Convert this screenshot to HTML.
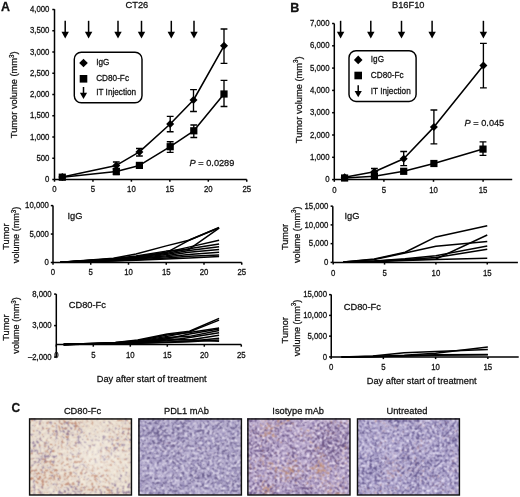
<!DOCTYPE html>
<html><head><meta charset="utf-8"><title>Figure</title>
<style>html,body{margin:0;padding:0;background:#fff;width:520px;height:497px;overflow:hidden}svg{display:block}</style>
</head><body>
<svg width="520" height="497" viewBox="0 0 520 497" font-family='"Liberation Sans", Arial, sans-serif' fill="#111">
<style>text{stroke:#111;stroke-width:0.25px}.ax{stroke:#000;stroke-width:1.5;fill:none}.eb{stroke:#000;stroke-width:1.35;fill:none}.dl{stroke:#000;stroke-width:1.55;fill:none;stroke-linejoin:round}.ml{stroke:#000;stroke-width:1.5;fill:none;stroke-linejoin:round}</style>
<rect width="520" height="497" fill="#fff"/>
<text transform="translate(0.9 10.6) scale(1 1.07)" font-size="12.4" font-weight="bold">A</text>
<text transform="translate(290.3 11.6) scale(1 1.07)" font-size="12.6" font-weight="bold">B</text>
<text transform="translate(11.4 411.8) scale(1 1.07)" font-size="12.0" font-weight="bold">C</text>
<line x1="54.5" y1="9.2" x2="54.5" y2="179.5" class="ax"/>
<line x1="52.3" y1="179.5" x2="54.5" y2="179.5" class="ax"/>
<text transform="translate(49.4 182.15) scale(1 1.07)" font-size="7.8" text-anchor="end">0</text>
<line x1="52.3" y1="158.25" x2="54.5" y2="158.25" class="ax"/>
<text transform="translate(49.4 160.9) scale(1 1.07)" font-size="7.8" text-anchor="end">500</text>
<line x1="52.3" y1="137" x2="54.5" y2="137" class="ax"/>
<text transform="translate(49.4 139.65) scale(1 1.07)" font-size="7.8" text-anchor="end">1,000</text>
<line x1="52.3" y1="115.75" x2="54.5" y2="115.75" class="ax"/>
<text transform="translate(49.4 118.4) scale(1 1.07)" font-size="7.8" text-anchor="end">1,500</text>
<line x1="52.3" y1="94.5" x2="54.5" y2="94.5" class="ax"/>
<text transform="translate(49.4 97.15) scale(1 1.07)" font-size="7.8" text-anchor="end">2,000</text>
<line x1="52.3" y1="73.25" x2="54.5" y2="73.25" class="ax"/>
<text transform="translate(49.4 75.9) scale(1 1.07)" font-size="7.8" text-anchor="end">2,500</text>
<line x1="52.3" y1="52" x2="54.5" y2="52" class="ax"/>
<text transform="translate(49.4 54.65) scale(1 1.07)" font-size="7.8" text-anchor="end">3,000</text>
<line x1="52.3" y1="30.75" x2="54.5" y2="30.75" class="ax"/>
<text transform="translate(49.4 33.4) scale(1 1.07)" font-size="7.8" text-anchor="end">3,500</text>
<line x1="52.3" y1="9.5" x2="54.5" y2="9.5" class="ax"/>
<text transform="translate(49.4 12.15) scale(1 1.07)" font-size="7.8" text-anchor="end">4,000</text>
<line x1="54.5" y1="179.5" x2="246.75" y2="179.5" class="ax"/>
<line x1="54.5" y1="179.5" x2="54.5" y2="181.7" class="ax"/>
<text transform="translate(54.5 192.3) scale(1 1.07)" font-size="7.8" text-anchor="middle">0</text>
<line x1="92.95" y1="179.5" x2="92.95" y2="181.7" class="ax"/>
<text transform="translate(92.95 192.3) scale(1 1.07)" font-size="7.8" text-anchor="middle">5</text>
<line x1="131.4" y1="179.5" x2="131.4" y2="181.7" class="ax"/>
<text transform="translate(131.4 192.3) scale(1 1.07)" font-size="7.8" text-anchor="middle">10</text>
<line x1="169.85" y1="179.5" x2="169.85" y2="181.7" class="ax"/>
<text transform="translate(169.85 192.3) scale(1 1.07)" font-size="7.8" text-anchor="middle">15</text>
<line x1="208.3" y1="179.5" x2="208.3" y2="181.7" class="ax"/>
<text transform="translate(208.3 192.3) scale(1 1.07)" font-size="7.8" text-anchor="middle">20</text>
<line x1="246.75" y1="179.5" x2="246.75" y2="181.7" class="ax"/>
<text transform="translate(246.75 192.3) scale(1 1.07)" font-size="7.8" text-anchor="middle">25</text>
<text transform="translate(136.85 7.6) scale(1 1.07)" font-size="9.3" text-anchor="middle">CT26</text>
<line x1="65.2" y1="20.8" x2="65.2" y2="32.2" stroke="#000" stroke-width="1.5"/>
<path d="M61.5 31.7L68.9 31.7L65.2 38.5Z" fill="#000"/>
<line x1="88.6" y1="20.8" x2="88.6" y2="32.2" stroke="#000" stroke-width="1.5"/>
<path d="M84.9 31.7L92.3 31.7L88.6 38.5Z" fill="#000"/>
<line x1="118" y1="20.8" x2="118" y2="32.2" stroke="#000" stroke-width="1.5"/>
<path d="M114.3 31.7L121.7 31.7L118 38.5Z" fill="#000"/>
<line x1="141.5" y1="20.8" x2="141.5" y2="32.2" stroke="#000" stroke-width="1.5"/>
<path d="M137.8 31.7L145.2 31.7L141.5 38.5Z" fill="#000"/>
<line x1="171.3" y1="20.8" x2="171.3" y2="32.2" stroke="#000" stroke-width="1.5"/>
<path d="M167.6 31.7L175 31.7L171.3 38.5Z" fill="#000"/>
<line x1="194" y1="20.8" x2="194" y2="32.2" stroke="#000" stroke-width="1.5"/>
<path d="M190.3 31.7L197.7 31.7L194 38.5Z" fill="#000"/>
<rect x="74.3" y="52.3" width="67.7" height="50.5" rx="7" ry="7" fill="none" stroke="#000" stroke-width="1.45"/>
<path d="M83.5 58.7L87.8 63L83.5 67.3L79.2 63Z" fill="#000"/>
<rect x="79.7" y="75" width="7.6" height="7.6" fill="#000"/>
<line x1="83.5" y1="87" x2="83.5" y2="93.3" stroke="#000" stroke-width="1.5"/>
<path d="M79.9 92.8L87.1 92.8L83.5 99Z" fill="#000"/>
<text transform="translate(96.2 65.3) scale(1 1.07)" font-size="8.2">IgG</text>
<text transform="translate(96.2 81.1) scale(1 1.07)" font-size="8.2">CD80-Fc</text>
<text transform="translate(96.2 95.3) scale(1 1.07)" font-size="8.2">IT Injection</text>
<text transform="translate(17.4 94.8) rotate(-90) scale(1 1.07)" font-size="9.3" text-anchor="middle">Tumor volume (mm<tspan font-size="6.2" dy="-3.3">3</tspan><tspan dy="3.3">)</tspan></text>
<path d="M62.3 177 L116.3 165.4 L139.4 151.9 L170.2 124 L193.5 100 L224 45.8" class="dl"/>
<path d="M62.3 177.2 L116.3 171.5 L139.4 165.4 L170.2 146.7 L193.8 130.8 L224 94" class="dl"/>
<path d="M116.3 162V169M112.9 162H119.7M112.9 169H119.7" class="eb"/>
<path d="M139.4 148.5V156M136 148.5H142.8M136 156H142.8" class="eb"/>
<path d="M170.2 116.3V131.7M166.8 116.3H173.6M166.8 131.7H173.6" class="eb"/>
<path d="M193.5 89.6V111.5M190.1 89.6H196.9M190.1 111.5H196.9" class="eb"/>
<path d="M224 29V63.3M220.6 29H227.4M220.6 63.3H227.4" class="eb"/>
<path d="M116.3 168.5V174.5M112.9 168.5H119.7M112.9 174.5H119.7" class="eb"/>
<path d="M170.2 141.7V152.3M166.8 141.7H173.6M166.8 152.3H173.6" class="eb"/>
<path d="M193.8 125V137.5M190.4 125H197.2M190.4 137.5H197.2" class="eb"/>
<path d="M224 80.4V106.5M220.6 80.4H227.4M220.6 106.5H227.4" class="eb"/>
<path d="M62.3 173L66.3 177L62.3 181L58.3 177Z" fill="#000"/>
<path d="M116.3 161.4L120.3 165.4L116.3 169.4L112.3 165.4Z" fill="#000"/>
<path d="M139.4 147.9L143.4 151.9L139.4 155.9L135.4 151.9Z" fill="#000"/>
<path d="M170.2 120L174.2 124L170.2 128L166.2 124Z" fill="#000"/>
<path d="M193.5 96L197.5 100L193.5 104L189.5 100Z" fill="#000"/>
<path d="M224 41.8L228 45.8L224 49.8L220 45.8Z" fill="#000"/>
<rect x="58.7" y="173.6" width="7.2" height="7.2" fill="#000"/>
<rect x="112.7" y="167.9" width="7.2" height="7.2" fill="#000"/>
<rect x="135.8" y="161.8" width="7.2" height="7.2" fill="#000"/>
<rect x="166.6" y="143.1" width="7.2" height="7.2" fill="#000"/>
<rect x="190.2" y="127.2" width="7.2" height="7.2" fill="#000"/>
<rect x="220.4" y="90.4" width="7.2" height="7.2" fill="#000"/>
<text transform="translate(189.6 165.8) scale(1 1.07)" font-size="9.2"><tspan font-style="italic">P</tspan> = 0.0289</text>
<path d="M60.55 262.33 L113.4 258.23 L136.05 253.97 L166.25 245.89 L188.9 240.31 L219.1 227.51" class="ml"/>
<path d="M60.55 262.33 L113.4 259.09 L136.05 256.81 L166.25 252.54 L188.9 240.31 L219.1 227.79" class="ml"/>
<path d="M60.55 262.33 L113.4 258.8 L136.05 255.96 L166.25 251.12 L188.9 249.41 L219.1 228.08" class="ml"/>
<path d="M60.55 262.33 L113.4 259.37 L136.05 256.81 L166.25 252.26 L188.9 247.14 L219.1 240.31" class="ml"/>
<path d="M60.55 262.33 L113.4 259.65 L136.05 257.38 L166.25 253.4 L188.9 248.84 L219.1 244.01" class="ml"/>
<path d="M60.55 262.33 L113.4 259.94 L136.05 257.95 L166.25 254.53 L188.9 250.55 L219.1 246.68" class="ml"/>
<path d="M60.55 262.33 L113.4 260.22 L136.05 258.52 L166.25 255.67 L188.9 252.26 L219.1 249.41" class="ml"/>
<path d="M60.55 262.33 L113.4 260.51 L136.05 259.09 L166.25 256.81 L188.9 254.53 L219.1 252.2" class="ml"/>
<path d="M60.55 262.33 L113.4 260.79 L136.05 259.65 L166.25 257.95 L188.9 256.24 L219.1 254.88" class="ml"/>
<path d="M60.55 262.33 L113.4 261.08 L136.05 260.22 L166.25 259.09 L188.9 257.95 L219.1 256.53" class="ml"/>
<line x1="53" y1="205.6" x2="53" y2="262.5" class="ax"/>
<line x1="50.8" y1="262.5" x2="53" y2="262.5" class="ax"/>
<text transform="translate(48.9 265.15) scale(1 1.07)" font-size="7.8" text-anchor="end">0</text>
<line x1="50.8" y1="234.05" x2="53" y2="234.05" class="ax"/>
<text transform="translate(48.9 236.7) scale(1 1.07)" font-size="7.8" text-anchor="end">5,000</text>
<line x1="50.8" y1="205.6" x2="53" y2="205.6" class="ax"/>
<text transform="translate(48.9 208.25) scale(1 1.07)" font-size="7.8" text-anchor="end">10,000</text>
<line x1="53" y1="262.5" x2="241.75" y2="262.5" class="ax"/>
<line x1="53" y1="262.5" x2="53" y2="264.7" class="ax"/>
<text transform="translate(53 275.4) scale(1 1.07)" font-size="7.8" text-anchor="middle">0</text>
<line x1="90.75" y1="262.5" x2="90.75" y2="264.7" class="ax"/>
<text transform="translate(90.75 275.4) scale(1 1.07)" font-size="7.8" text-anchor="middle">5</text>
<line x1="128.5" y1="262.5" x2="128.5" y2="264.7" class="ax"/>
<text transform="translate(128.5 275.4) scale(1 1.07)" font-size="7.8" text-anchor="middle">10</text>
<line x1="166.25" y1="262.5" x2="166.25" y2="264.7" class="ax"/>
<text transform="translate(166.25 275.4) scale(1 1.07)" font-size="7.8" text-anchor="middle">15</text>
<line x1="204" y1="262.5" x2="204" y2="264.7" class="ax"/>
<text transform="translate(204 275.4) scale(1 1.07)" font-size="7.8" text-anchor="middle">20</text>
<line x1="241.75" y1="262.5" x2="241.75" y2="264.7" class="ax"/>
<text transform="translate(241.75 275.4) scale(1 1.07)" font-size="7.8" text-anchor="middle">25</text>
<text transform="translate(67.5 219.4) scale(1 1.07)" font-size="9.3">IgG</text>
<text transform="translate(8.9 236.6) rotate(-90) scale(1 1.07)" font-size="9.2" text-anchor="middle">Tumor</text>
<text transform="translate(19.3 234.9) rotate(-90) scale(1 1.07)" font-size="9.1" text-anchor="middle">volume (mm<tspan font-size="6.2" dy="-3.3">3</tspan><tspan dy="3.3">)</tspan></text>
<path d="M63.7 344.5 L115.5 342.61 L137.7 340.09 L167.3 333.98 L189.5 331.21 L219.1 318.42" class="ml"/>
<path d="M63.7 344.5 L115.5 342.93 L137.7 341.35 L167.3 336.37 L189.5 331.9 L219.1 320.12" class="ml"/>
<path d="M63.7 344.5 L115.5 342.61 L137.7 340.72 L167.3 335.05 L189.5 332.53 L219.1 327.99" class="ml"/>
<path d="M63.7 344.5 L115.5 343.24 L137.7 341.98 L167.3 338.83 L189.5 333.98 L219.1 329.06" class="ml"/>
<path d="M63.7 344.5 L115.5 343.24 L137.7 341.98 L167.3 337.57 L189.5 336.37 L219.1 330.39" class="ml"/>
<path d="M63.7 344.5 L115.5 343.56 L137.7 342.61 L167.3 340.78 L189.5 337.57 L219.1 332.78" class="ml"/>
<path d="M63.7 344.5 L115.5 343.56 L137.7 342.61 L167.3 340.09 L189.5 340.09 L219.1 335.18" class="ml"/>
<path d="M63.7 344.5 L115.5 343.87 L137.7 342.93 L167.3 338.83 L189.5 340.09 L219.1 341.22" class="ml"/>
<path d="M63.7 344.5 L115.5 343.87 L137.7 343.24 L167.3 341.98 L189.5 341.35 L219.1 338.2" class="ml"/>
<path d="M63.7 344.5 L115.5 343.87 L137.7 343.24 L167.3 342.61 L189.5 341.67 L219.1 340.09" class="ml"/>
<line x1="56.3" y1="294.1" x2="56.3" y2="357.1" class="ax"/>
<line x1="54.1" y1="294.1" x2="56.3" y2="294.1" class="ax"/>
<text transform="translate(51.7 296.75) scale(1 1.07)" font-size="7.8" text-anchor="end">8,000</text>
<line x1="54.1" y1="325.6" x2="56.3" y2="325.6" class="ax"/>
<text transform="translate(51.7 328.25) scale(1 1.07)" font-size="7.8" text-anchor="end">3,000</text>
<line x1="54.1" y1="357.1" x2="56.3" y2="357.1" class="ax"/>
<text transform="translate(51.7 359.75) scale(1 1.07)" font-size="7.8" text-anchor="end">&#8211;2,000</text>
<line x1="56.3" y1="344.5" x2="241.3" y2="344.5" class="ax"/>
<line x1="56.3" y1="344.5" x2="56.3" y2="346.7" class="ax"/>
<text transform="translate(56.3 357.6) scale(1 1.07)" font-size="7.8" text-anchor="middle">0</text>
<line x1="93.3" y1="344.5" x2="93.3" y2="346.7" class="ax"/>
<text transform="translate(93.3 357.6) scale(1 1.07)" font-size="7.8" text-anchor="middle">5</text>
<line x1="130.3" y1="344.5" x2="130.3" y2="346.7" class="ax"/>
<text transform="translate(130.3 357.6) scale(1 1.07)" font-size="7.8" text-anchor="middle">10</text>
<line x1="167.3" y1="344.5" x2="167.3" y2="346.7" class="ax"/>
<text transform="translate(167.3 357.6) scale(1 1.07)" font-size="7.8" text-anchor="middle">15</text>
<line x1="204.3" y1="344.5" x2="204.3" y2="346.7" class="ax"/>
<text transform="translate(204.3 357.6) scale(1 1.07)" font-size="7.8" text-anchor="middle">20</text>
<line x1="241.3" y1="344.5" x2="241.3" y2="346.7" class="ax"/>
<text transform="translate(241.3 357.6) scale(1 1.07)" font-size="7.8" text-anchor="middle">25</text>
<text transform="translate(68.75 308.3) scale(1 1.07)" font-size="9.3">CD80-Fc</text>
<text transform="translate(8.9 327.6) rotate(-90) scale(1 1.07)" font-size="9.2" text-anchor="middle">Tumor</text>
<text transform="translate(19.3 325.4) rotate(-90) scale(1 1.07)" font-size="9.1" text-anchor="middle">volume (mm<tspan font-size="6.2" dy="-3.3">3</tspan><tspan dy="3.3">)</tspan></text>
<text transform="translate(96.8 382.1) scale(1 1.07)" font-size="9.25">Day after start of treatment</text>
<line x1="334.3" y1="23.5" x2="334.3" y2="179.6" class="ax"/>
<line x1="332.1" y1="179.6" x2="334.3" y2="179.6" class="ax"/>
<text transform="translate(329.5 182.25) scale(1 1.07)" font-size="7.8" text-anchor="end">0</text>
<line x1="332.1" y1="157.3" x2="334.3" y2="157.3" class="ax"/>
<text transform="translate(329.5 159.95) scale(1 1.07)" font-size="7.8" text-anchor="end">1,000</text>
<line x1="332.1" y1="135" x2="334.3" y2="135" class="ax"/>
<text transform="translate(329.5 137.65) scale(1 1.07)" font-size="7.8" text-anchor="end">2,000</text>
<line x1="332.1" y1="112.7" x2="334.3" y2="112.7" class="ax"/>
<text transform="translate(329.5 115.35) scale(1 1.07)" font-size="7.8" text-anchor="end">3,000</text>
<line x1="332.1" y1="90.4" x2="334.3" y2="90.4" class="ax"/>
<text transform="translate(329.5 93.05) scale(1 1.07)" font-size="7.8" text-anchor="end">4,000</text>
<line x1="332.1" y1="68.1" x2="334.3" y2="68.1" class="ax"/>
<text transform="translate(329.5 70.75) scale(1 1.07)" font-size="7.8" text-anchor="end">5,000</text>
<line x1="332.1" y1="45.8" x2="334.3" y2="45.8" class="ax"/>
<text transform="translate(329.5 48.45) scale(1 1.07)" font-size="7.8" text-anchor="end">6,000</text>
<line x1="332.1" y1="23.5" x2="334.3" y2="23.5" class="ax"/>
<text transform="translate(329.5 26.15) scale(1 1.07)" font-size="7.8" text-anchor="end">7,000</text>
<line x1="334.3" y1="179.6" x2="512.2" y2="179.6" class="ax"/>
<line x1="334.3" y1="179.6" x2="334.3" y2="181.8" class="ax"/>
<text transform="translate(334.3 192.5) scale(1 1.07)" font-size="7.8" text-anchor="middle">0</text>
<line x1="383.9" y1="179.6" x2="383.9" y2="181.8" class="ax"/>
<text transform="translate(383.9 192.5) scale(1 1.07)" font-size="7.8" text-anchor="middle">5</text>
<line x1="433.5" y1="179.6" x2="433.5" y2="181.8" class="ax"/>
<text transform="translate(433.5 192.5) scale(1 1.07)" font-size="7.8" text-anchor="middle">10</text>
<line x1="483.1" y1="179.6" x2="483.1" y2="181.8" class="ax"/>
<text transform="translate(483.1 192.5) scale(1 1.07)" font-size="7.8" text-anchor="middle">15</text>
<text transform="translate(408.25 7.7) scale(1 1.07)" font-size="9.3" text-anchor="middle">B16F10</text>
<line x1="340.6" y1="20.8" x2="340.6" y2="32.2" stroke="#000" stroke-width="1.5"/>
<path d="M336.9 31.7L344.3 31.7L340.6 38.5Z" fill="#000"/>
<line x1="370.8" y1="20.8" x2="370.8" y2="32.2" stroke="#000" stroke-width="1.5"/>
<path d="M367.1 31.7L374.5 31.7L370.8 38.5Z" fill="#000"/>
<line x1="401.5" y1="20.8" x2="401.5" y2="32.2" stroke="#000" stroke-width="1.5"/>
<path d="M397.8 31.7L405.2 31.7L401.5 38.5Z" fill="#000"/>
<line x1="432.1" y1="20.8" x2="432.1" y2="32.2" stroke="#000" stroke-width="1.5"/>
<path d="M428.4 31.7L435.8 31.7L432.1 38.5Z" fill="#000"/>
<line x1="483.4" y1="20.8" x2="483.4" y2="32.2" stroke="#000" stroke-width="1.5"/>
<path d="M479.7 31.7L487.1 31.7L483.4 38.5Z" fill="#000"/>
<rect x="349" y="50.7" width="67.1" height="50.7" rx="7" ry="7" fill="none" stroke="#000" stroke-width="1.45"/>
<path d="M358.2 55.6L362.5 59.9L358.2 64.2L353.9 59.9Z" fill="#000"/>
<rect x="354.4" y="71.7" width="7.6" height="7.6" fill="#000"/>
<line x1="358.2" y1="85.2" x2="358.2" y2="91.5" stroke="#000" stroke-width="1.5"/>
<path d="M354.6 91L361.8 91L358.2 97.2Z" fill="#000"/>
<text transform="translate(370.8 62.2) scale(1 1.07)" font-size="8.2">IgG</text>
<text transform="translate(370.8 77.8) scale(1 1.07)" font-size="8.2">CD80-Fc</text>
<text transform="translate(370.8 93.5) scale(1 1.07)" font-size="8.2">IT Injection</text>
<text transform="translate(302 99.8) rotate(-90) scale(1 1.07)" font-size="9.3" text-anchor="middle">Tumor volume (mm<tspan font-size="6.2" dy="-3.3">3</tspan><tspan dy="3.3">)</tspan></text>
<path d="M344.6 177.3 L374.4 171.7 L403.7 158.7 L433.9 127.1 L483.4 65.4" class="dl"/>
<path d="M344.6 178 L374.4 176.2 L403.7 171.3 L433.9 163.5 L483 149.1" class="dl"/>
<path d="M374.4 168.5V175M371 168.5H377.8M371 175H377.8" class="eb"/>
<path d="M403.7 151.5V165.6M400.3 151.5H407.1M400.3 165.6H407.1" class="eb"/>
<path d="M433.9 110V143.8M430.5 110H437.3M430.5 143.8H437.3" class="eb"/>
<path d="M483.4 43.3V87.9M480 43.3H486.8M480 87.9H486.8" class="eb"/>
<path d="M483 141.9V155.4M479.6 141.9H486.4M479.6 155.4H486.4" class="eb"/>
<path d="M344.6 173.3L348.6 177.3L344.6 181.3L340.6 177.3Z" fill="#000"/>
<path d="M374.4 167.7L378.4 171.7L374.4 175.7L370.4 171.7Z" fill="#000"/>
<path d="M403.7 154.7L407.7 158.7L403.7 162.7L399.7 158.7Z" fill="#000"/>
<path d="M433.9 123.1L437.9 127.1L433.9 131.1L429.9 127.1Z" fill="#000"/>
<path d="M483.4 61.4L487.4 65.4L483.4 69.4L479.4 65.4Z" fill="#000"/>
<rect x="341" y="174.4" width="7.2" height="7.2" fill="#000"/>
<rect x="370.8" y="172.6" width="7.2" height="7.2" fill="#000"/>
<rect x="400.1" y="167.7" width="7.2" height="7.2" fill="#000"/>
<rect x="430.3" y="159.9" width="7.2" height="7.2" fill="#000"/>
<rect x="479.4" y="145.5" width="7.2" height="7.2" fill="#000"/>
<text transform="translate(464.6 125.5) scale(1 1.07)" font-size="9.2"><tspan font-style="italic">P</tspan> = 0.045</text>
<path d="M343.47 262.02 L374.28 259.02 L405.09 252.27 L435.9 236.9 L487.25 225.65" class="ml"/>
<path d="M343.47 262.02 L374.28 259.4 L405.09 253.02 L435.9 246.27 L487.25 241.4" class="ml"/>
<path d="M343.47 262.21 L374.28 261.27 L405.09 259.77 L435.9 259.02 L487.25 235.02" class="ml"/>
<path d="M343.47 262.21 L374.28 260.9 L405.09 258.65 L435.9 255.65 L487.25 245.9" class="ml"/>
<path d="M343.47 262.21 L374.28 261.27 L405.09 259.4 L435.9 257.52 L487.25 249.27" class="ml"/>
<path d="M343.47 262.21 L374.28 261.65 L405.09 260.52 L435.9 259.4 L487.25 258.27" class="ml"/>
<line x1="332.8" y1="206.2" x2="332.8" y2="262.4" class="ax"/>
<line x1="330.6" y1="262.4" x2="332.8" y2="262.4" class="ax"/>
<text transform="translate(328.3 265.05) scale(1 1.07)" font-size="7.8" text-anchor="end">0</text>
<line x1="330.6" y1="243.65" x2="332.8" y2="243.65" class="ax"/>
<text transform="translate(328.3 246.3) scale(1 1.07)" font-size="7.8" text-anchor="end">5,000</text>
<line x1="330.6" y1="224.9" x2="332.8" y2="224.9" class="ax"/>
<text transform="translate(328.3 227.55) scale(1 1.07)" font-size="7.8" text-anchor="end">10,000</text>
<line x1="330.6" y1="206.15" x2="332.8" y2="206.15" class="ax"/>
<text transform="translate(328.3 208.8) scale(1 1.07)" font-size="7.8" text-anchor="end">15,000</text>
<line x1="332.8" y1="262.4" x2="517.9" y2="262.4" class="ax"/>
<line x1="333.2" y1="262.4" x2="333.2" y2="264.6" class="ax"/>
<text transform="translate(333.2 275.5) scale(1 1.07)" font-size="7.8" text-anchor="middle">0</text>
<line x1="384.55" y1="262.4" x2="384.55" y2="264.6" class="ax"/>
<text transform="translate(384.55 275.5) scale(1 1.07)" font-size="7.8" text-anchor="middle">5</text>
<line x1="435.9" y1="262.4" x2="435.9" y2="264.6" class="ax"/>
<text transform="translate(435.9 275.5) scale(1 1.07)" font-size="7.8" text-anchor="middle">10</text>
<line x1="487.25" y1="262.4" x2="487.25" y2="264.6" class="ax"/>
<text transform="translate(487.25 275.5) scale(1 1.07)" font-size="7.8" text-anchor="middle">15</text>
<text transform="translate(344.5 219.4) scale(1 1.07)" font-size="9.3">IgG</text>
<text transform="translate(288.2 237) rotate(-90) scale(1 1.07)" font-size="9.2" text-anchor="middle">Tumor</text>
<text transform="translate(299.5 234.7) rotate(-90) scale(1 1.07)" font-size="9.1" text-anchor="middle">volume (mm<tspan font-size="6.2" dy="-3.3">3</tspan><tspan dy="3.3">)</tspan></text>
<path d="M341.55 356.9 L372.9 356.07 L404.25 352.75 L435.6 351.5 L487.85 349.43" class="ml"/>
<path d="M341.55 356.9 L372.9 356.48 L404.25 355.24 L435.6 353.16 L487.85 346.94" class="ml"/>
<path d="M341.55 356.9 L372.9 356.48 L404.25 355.65 L435.6 354.82 L487.85 354.62" class="ml"/>
<path d="M341.55 356.9 L372.9 356.69 L404.25 356.07 L435.6 355.24 L487.85 354.82" class="ml"/>
<line x1="331.25" y1="294.6" x2="331.25" y2="356.9" class="ax"/>
<line x1="329.05" y1="356.9" x2="331.25" y2="356.9" class="ax"/>
<text transform="translate(327 359.55) scale(1 1.07)" font-size="7.8" text-anchor="end">0</text>
<line x1="329.05" y1="336.15" x2="331.25" y2="336.15" class="ax"/>
<text transform="translate(327 338.8) scale(1 1.07)" font-size="7.8" text-anchor="end">5,000</text>
<line x1="329.05" y1="315.4" x2="331.25" y2="315.4" class="ax"/>
<text transform="translate(327 318.05) scale(1 1.07)" font-size="7.8" text-anchor="end">10,000</text>
<line x1="329.05" y1="294.65" x2="331.25" y2="294.65" class="ax"/>
<text transform="translate(327 297.3) scale(1 1.07)" font-size="7.8" text-anchor="end">15,000</text>
<line x1="331.25" y1="356.9" x2="518.7" y2="356.9" class="ax"/>
<line x1="331.1" y1="356.9" x2="331.1" y2="359.1" class="ax"/>
<text transform="translate(331.1 369.5) scale(1 1.07)" font-size="7.8" text-anchor="middle">0</text>
<line x1="383.35" y1="356.9" x2="383.35" y2="359.1" class="ax"/>
<text transform="translate(383.35 369.5) scale(1 1.07)" font-size="7.8" text-anchor="middle">5</text>
<line x1="435.6" y1="356.9" x2="435.6" y2="359.1" class="ax"/>
<text transform="translate(435.6 369.5) scale(1 1.07)" font-size="7.8" text-anchor="middle">10</text>
<line x1="487.85" y1="356.9" x2="487.85" y2="359.1" class="ax"/>
<text transform="translate(487.85 369.5) scale(1 1.07)" font-size="7.8" text-anchor="middle">15</text>
<text transform="translate(343.75 309.5) scale(1 1.07)" font-size="9.3">CD80-Fc</text>
<text transform="translate(288.2 330.3) rotate(-90) scale(1 1.07)" font-size="9.2" text-anchor="middle">Tumor</text>
<text transform="translate(299.5 328) rotate(-90) scale(1 1.07)" font-size="9.1" text-anchor="middle">volume (mm<tspan font-size="6.2" dy="-3.3">3</tspan><tspan dy="3.3">)</tspan></text>
<text transform="translate(366.8 383.7) scale(1 1.07)" font-size="9.25">Day after start of treatment</text>
<text transform="translate(82.5 414.4) scale(1 1.07)" font-size="9.3" text-anchor="middle">CD80-Fc</text>
<text transform="translate(186.4 414.4) scale(1 1.07)" font-size="9.3" text-anchor="middle">PDL1 mAb</text>
<text transform="translate(298.2 414.4) scale(1 1.07)" font-size="9.3" text-anchor="middle">Isotype mAb</text>
<text transform="translate(406.9 414.4) scale(1 1.07)" font-size="9.3" text-anchor="middle">Untreated</text>
<defs>
<filter id="t0" x="29.6" y="418.95" width="101.85" height="76.05" filterUnits="userSpaceOnUse" color-interpolation-filters="sRGB">
<feTurbulence type="fractalNoise" baseFrequency="0.36" numOctaves="3" seed="3" result="n"/>
<feTurbulence type="fractalNoise" baseFrequency="0.035" numOctaves="2" seed="53" result="c"/>
<feColorMatrix in="n" type="matrix" values="0 0 -0.1412 0 0.9922  0 0 -0.1804 0 0.9706  0 0 -0.1412 0 0.898  0 0 0 0 1" result="base"/>
<feComposite in="n" in2="c" operator="arithmetic" k1="0" k2="0.7" k3="0.3" k4="0" result="m"/>
<feColorMatrix in="m" type="matrix" values="0 0 0 0 0.5569  0 0 0 0 0.4706  0 0 0 0 0.5961  -7 0 0 0 3.115" result="dk"/>
<feComposite in="n" in2="c" operator="arithmetic" k1="0" k2="0.7" k3="0.3" k4="0" result="bm"/>
<feColorMatrix in="bm" type="matrix" values="0 0 0 0 0.7529  0 0 0 0 0.5412  0 0 0 0 0.451  0 7 0 0 -3.85" result="br"/>
<feComposite in="dk" in2="base" operator="over" result="b1"/>
<feComposite in="br" in2="b1" operator="over"/>
<feConvolveMatrix order="3" kernelMatrix="1 2 1 2 6 2 1 2 1" divisor="18" edgeMode="duplicate"/>
</filter>
<filter id="t1" x="138.95" y="418.95" width="102.45" height="76.05" filterUnits="userSpaceOnUse" color-interpolation-filters="sRGB">
<feTurbulence type="fractalNoise" baseFrequency="0.4" numOctaves="2" seed="11" result="n"/>
<feTurbulence type="fractalNoise" baseFrequency="0.035" numOctaves="2" seed="61" result="c"/>
<feColorMatrix in="n" type="matrix" values="0 0 -0.7059 0 1.0824  0 0 -0.7529 0 1.0745  0 0 -0.4941 0 1.0667  0 0 0 0 1" result="base"/>
<feComposite in="n" in2="c" operator="arithmetic" k1="0" k2="0.8" k3="0.2" k4="0" result="m"/>
<feColorMatrix in="m" type="matrix" values="0 0 0 0 0.4  0 0 0 0 0.3529  0 0 0 0 0.5412  -8 0 0 0 3.76" result="dk"/>
<feComposite in="n" in2="c" operator="arithmetic" k1="0" k2="0.7" k3="0.3" k4="0" result="bm"/>
<feColorMatrix in="bm" type="matrix" values="0 0 0 0 0.6667  0 0 0 0 0.5294  0 0 0 0 0.6275  0 4 0 0 -2.64" result="br"/>
<feComposite in="dk" in2="base" operator="over" result="b1"/>
<feComposite in="br" in2="b1" operator="over"/>
<feConvolveMatrix order="3" kernelMatrix="1 2 1 2 6 2 1 2 1" divisor="18" edgeMode="duplicate"/>
</filter>
<filter id="t2" x="247.9" y="418.95" width="102.1" height="76.05" filterUnits="userSpaceOnUse" color-interpolation-filters="sRGB">
<feTurbulence type="fractalNoise" baseFrequency="0.4" numOctaves="2" seed="21" result="n"/>
<feTurbulence type="fractalNoise" baseFrequency="0.035" numOctaves="2" seed="71" result="c"/>
<feColorMatrix in="n" type="matrix" values="0 0 -0.8 0 1.1529  0 0 -0.8706 0 1.1294  0 0 -0.5882 0 1.1137  0 0 0 0 1" result="base"/>
<feComposite in="n" in2="c" operator="arithmetic" k1="0" k2="0.8" k3="0.2" k4="0" result="m"/>
<feColorMatrix in="m" type="matrix" values="0 0 0 0 0.4  0 0 0 0 0.3137  0 0 0 0 0.5098  -8 0 0 0 3.76" result="dk"/>
<feComposite in="n" in2="c" operator="arithmetic" k1="0" k2="0.55" k3="0.45" k4="0" result="bm"/>
<feColorMatrix in="bm" type="matrix" values="0 0 0 0 0.7529  0 0 0 0 0.5412  0 0 0 0 0.4235  0 6 0 0 -3.42" result="br"/>
<feComposite in="dk" in2="base" operator="over" result="b1"/>
<feComposite in="br" in2="b1" operator="over"/>
<feConvolveMatrix order="3" kernelMatrix="1 2 1 2 6 2 1 2 1" divisor="18" edgeMode="duplicate"/>
</filter>
<filter id="t3" x="357.5" y="418.95" width="101.9" height="76.05" filterUnits="userSpaceOnUse" color-interpolation-filters="sRGB">
<feTurbulence type="fractalNoise" baseFrequency="0.4" numOctaves="2" seed="31" result="n"/>
<feTurbulence type="fractalNoise" baseFrequency="0.035" numOctaves="2" seed="81" result="c"/>
<feColorMatrix in="n" type="matrix" values="0 0 -0.7529 0 1.1059  0 0 -0.8 0 1.098  0 0 -0.5412 0 1.1059  0 0 0 0 1" result="base"/>
<feComposite in="n" in2="c" operator="arithmetic" k1="0" k2="0.8" k3="0.2" k4="0" result="m"/>
<feColorMatrix in="m" type="matrix" values="0 0 0 0 0.3843  0 0 0 0 0.3373  0 0 0 0 0.549  -8 0 0 0 3.76" result="dk"/>
<feComposite in="n" in2="c" operator="arithmetic" k1="0" k2="0.7" k3="0.3" k4="0" result="bm"/>
<feColorMatrix in="bm" type="matrix" values="0 0 0 0 0.7451  0 0 0 0 0.5804  0 0 0 0 0.5882  0 5 0 0 -3" result="br"/>
<feComposite in="dk" in2="base" operator="over" result="b1"/>
<feComposite in="br" in2="b1" operator="over"/>
<feConvolveMatrix order="3" kernelMatrix="1 2 1 2 6 2 1 2 1" divisor="18" edgeMode="duplicate"/>
</filter>
</defs>
<defs><radialGradient id="g1" cx="0.66" cy="0.5" r="0.42"><stop offset="0" stop-color="#fffdf6" stop-opacity="0.38"/><stop offset="1" stop-color="#fffdf6" stop-opacity="0"/></radialGradient></defs>
<rect x="29.6" y="418.95" width="101.85" height="76.05" fill="#000" filter="url(#t0)"/>
<rect x="29.6" y="418.95" width="101.85" height="76.05" fill="url(#g1)"/>
<rect x="29.6" y="418.95" width="101.85" height="76.05" fill="none" stroke="#111" stroke-width="1.45"/>
<rect x="138.95" y="418.95" width="102.45" height="76.05" fill="#000" filter="url(#t1)"/>
<rect x="138.95" y="418.95" width="102.45" height="76.05" fill="none" stroke="#111" stroke-width="1.45"/>
<rect x="247.9" y="418.95" width="102.1" height="76.05" fill="#000" filter="url(#t2)"/>
<rect x="247.9" y="418.95" width="102.1" height="76.05" fill="none" stroke="#111" stroke-width="1.45"/>
<rect x="357.5" y="418.95" width="101.9" height="76.05" fill="#000" filter="url(#t3)"/>
<rect x="357.5" y="418.95" width="101.9" height="76.05" fill="none" stroke="#111" stroke-width="1.45"/>
</svg>
</body></html>
